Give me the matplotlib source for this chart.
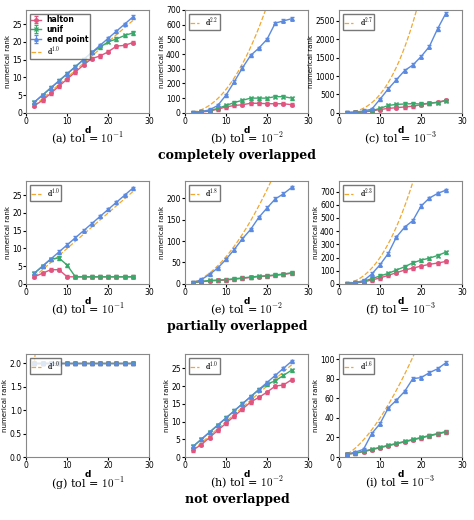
import matplotlib
matplotlib.use("Agg")
import matplotlib.pyplot as plt
import numpy as np

d = np.arange(2, 27, 2)
halton = [
 [2,3.5,5.5,7.5,9.5,11.5,13.5,15.3,16,17.2,18.8,19,19.8],
 [2,6,12,25,40,50,55,65,65,62,62,62,55],
 [3,10,25,50,90,120,140,160,180,220,260,290,340],
 [2,3,4,4,2,2,2,2,2,2,2,2,2],
 [3,5,7,8,9,11,13,15,17,18,20,22,25],
 [3,8,15,30,45,65,85,105,120,135,148,158,170],
 [2]*13,
 [2,3.5,5.5,7.5,9.5,11.5,13.5,15.5,16.8,18.3,20,20.3,21.8],
 [3,4,5.5,7.5,9.5,11.5,13.5,15.5,17.5,19.5,21.5,23.5,25.5],
]
unif = [
 [3,5,7,9,11,13,15,17,18.5,20,20.8,21.8,22.5],
 [2,8,15,30,50,70,85,100,100,100,110,110,100],
 [5,15,30,60,120,200,230,240,250,240,260,280,330],
 [3,5,7,7.3,5.3,2,2,2,2,2,2,2,2],
 [3,6,8,9,10,12,14,16,18,19,21,23,26],
 [3,10,20,40,60,80,105,130,160,180,195,215,240],
 [2]*13,
 [3,5,7,9,11,13,15,17,19,20.5,21.5,23,24.5],
 [3,4,6,8,10,12,14,16,18,20,22,24,26],
]
endp = [
 [3,5,7,9,11,13,15,17,19,21,23,25,27],
 [2,8,20,50,120,210,305,390,440,500,610,625,640],
 [5,20,50,100,370,650,900,1150,1300,1530,1800,2280,2700],
 [3,5,7,9,11,13,15,17,19,21,23,25,27],
 [3,10,22,37,57,80,105,127,155,177,198,210,225],
 [3,10,25,75,145,230,355,430,480,590,650,685,710],
 [2]*13,
 [3,5,7,9,11,13,15,17,19,21,23,25,27],
 [3,5,8,24,34,50,58,67,80,81,86,90,96],
]
exps = [1.0,2.2,2.7,1.0,1.8,2.3,1.0,1.0,1.6]
ylims = [(0,29),(0,700),(0,2800),(0,29),(0,240),(0,780),(0,2.2),(0,29),(0,105)]
yticks = [[0,5,10,15,20,25],[0,100,200,300,400,500,600,700],[0,500,1000,1500,2000,2500],
          [0,5,10,15,20,25],[0,50,100,150,200],[0,100,200,300,400,500,600,700],
          [0,0.5,1,1.5,2],[0,5,10,15,20,25],[0,20,40,60,80,100]]
captions = ["(a) tol = $10^{-1}$","(b) tol = $10^{-2}$","(c) tol = $10^{-3}$",
            "(d) tol = $10^{-1}$","(e) tol = $10^{-2}$","(f) tol = $10^{-3}$",
            "(g) tol = $10^{-1}$","(h) tol = $10^{-2}$","(i) tol = $10^{-3}$"]
groups = ["completely overlapped","partially overlapped","not overlapped"]

ch, cu, ce, cd = "#e05580", "#3aa86a", "#5b8ae0", "#f0a830"
plt.rcParams['font.family'] = ['DejaVu Sans']
plt.rcParams['mathtext.fontset'] = 'cm'
fig = plt.figure(figsize=(4.74,5.2), dpi=100)
lefts = [0.055, 0.39, 0.715]
bottoms = [0.783, 0.454, 0.121]
w, h = 0.26, 0.198
for k in range(9):
    r, c = divmod(k, 3)
    ax = fig.add_axes([lefts[c], bottoms[r], w, h])
    lo, hi = ylims[k]
    err = (hi-lo)*0.015
    dd = np.linspace(2, 26, 200)
    ax.plot(dd, dd**exps[k], '--', color=cd, lw=0.9, label=f"$\\mathbf{{d^{{{exps[k]}}}}}$")
    ax.errorbar(d, halton[k], yerr=err, color=ch, marker='o', ms=2.5, lw=1, elinewidth=0.7, capsize=1.5, label="halton")
    ax.errorbar(d, unif[k], yerr=err, color=cu, marker='x', ms=2.5, lw=1, elinewidth=0.7, capsize=1.5, label="unif")
    ax.errorbar(d, endp[k], yerr=err, color=ce, marker='^', ms=2.5, lw=1, elinewidth=0.7, capsize=1.5, label="end point")
    ax.set_xlim(0, 30); ax.set_ylim(lo, hi)
    ax.set_xticks([0,10,20,30]); ax.set_yticks(yticks[k])
    ax.tick_params(labelsize=5.5, length=2, pad=1)
    ax.set_xlabel("d", fontsize=6.5, fontweight='bold', labelpad=0)
    ax.set_ylabel("numerical rank", fontsize=5, labelpad=1)
    for s in ax.spines.values(): s.set_color("#888888")
    hs, ls = ax.get_legend_handles_labels()
    if k == 0:
        ax.legend([hs[1],hs[2],hs[3],hs[0]],[ls[1],ls[2],ls[3],ls[0]], loc='upper left',
                  handlelength=1.2, borderpad=0.2, labelspacing=0.1, fancybox=False, edgecolor='#555555',
                  prop={'weight':'bold','size':5.5})
    else:
        ax.legend([hs[0]],[ls[0]], loc='upper left', handlelength=1.2, borderpad=0.2,
                  fancybox=False, edgecolor='#555555', prop={'weight':'bold','size':5.5})
    fig.text(lefts[c]+w/2, bottoms[r]-0.058, captions[k], ha='center', fontsize=8, family='serif')
for r in range(3):
    fig.text(0.5, bottoms[r]-0.088, groups[r], ha='center', fontsize=9, fontweight='bold', family='serif')
fig.savefig("out.png", dpi=100)
